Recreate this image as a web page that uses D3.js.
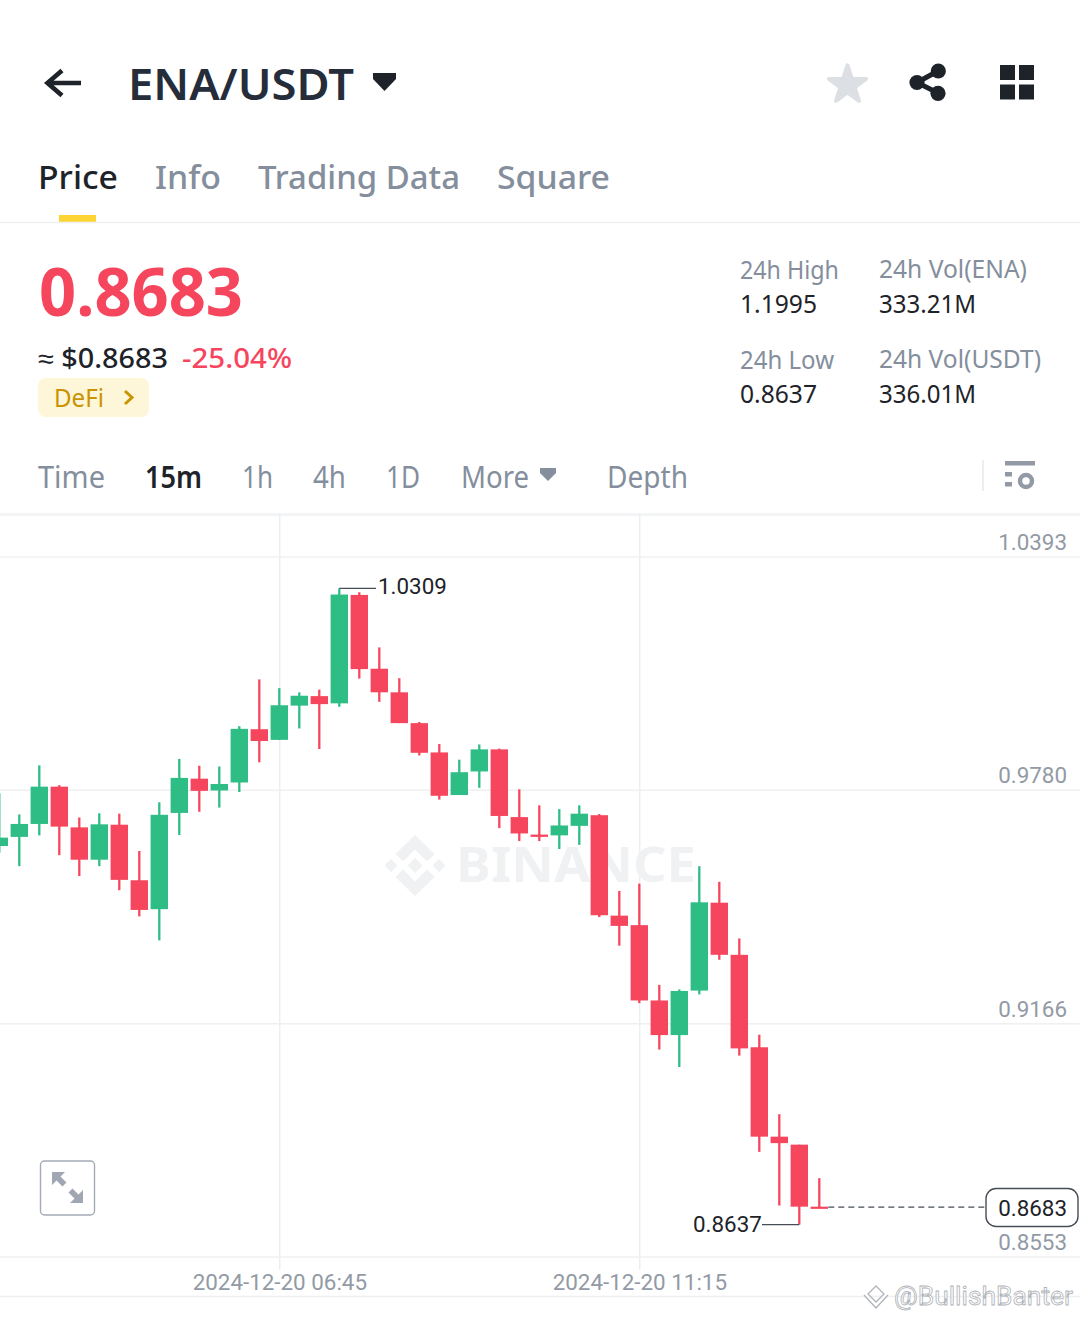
<!DOCTYPE html>
<html>
<head>
<meta charset="utf-8">
<title>ENA/USDT</title>
<script src="https://cdn.jsdelivr.net/npm/d3@7"></script>
<style>
  html, body { margin: 0; padding: 0; background: #fff; }
  svg { display: block; }
</style>
</head>
<body>
<div id="chart"></div>
<script>
// 15m bars
const times = ["03:15","03:30","03:45","04:00","04:15","04:30","04:45","05:00","05:15","05:30","05:45","06:00","06:15","06:30",
  "06:45","07:00","07:15","07:30","07:45","08:00","08:15","08:30","08:45","09:00","09:15","09:30","09:45","10:00",
  "10:15","10:30","10:45","11:00","11:15","11:30","11:45","12:00","12:15","12:30","12:45","13:00","13:15","13:30"];
const opens = [.9632,.9656,.9690,.9788,.9681,.9596,.9688,.9542,.9466,.9719,.9809,.9778,.9799,.9939,
  .9911,1.0001,1.0026,1.0007,1.0292,1.0098,1.0036,.9955,.9878,.9766,.9828,.9886,.9708,.9662,
  .9660,.9685,.9713,.9449,.9424,.9226,.9135,.9252,.9483,.9346,.9103,.8868,.8847,.8684];
const closes = [.9654,.9690,.9788,.9683,.9596,.9689,.9543,.9464,.9714,.9811,.9777,.9795,.9940,.9908,
  1.0002,1.0027,1.0005,1.0293,1.0097,1.0036,.9955,.9877,.9764,.9826,.9886,.9711,.9665,.9656,
  .9686,.9717,.9450,.9422,.9226,.9135,.9251,.9484,.9346,.9100,.8868,.8851,.8684,.8683];
const highs = [.9771,.9715,.9844,.9792,.9707,.9718,.9717,.9619,.9747,.9861,.9843,.9841,.9947,1.0070,
  1.0047,1.0036,1.0043,1.0309,1.0299,1.0154,1.0073,.9958,.9900,.9859,.9899,.9888,.9781,.9739,
  .9729,.9739,.9716,.9514,.9533,.9267,.9255,.9579,.9538,.9389,.9136,.8927,.8847,.8759];
const lows = [.9614,.9579,.9660,.9608,.9553,.9579,.9516,.9447,.9384,.9661,.9722,.9733,.9774,.9852,
  .9911,.9941,.9887,.9998,1.0072,1.0011,.9955,.9870,.9754,.9766,.9785,.9679,.9645,.9645,
  .9624,.9635,.9445,.9370,.9219,.9097,.9051,.9242,.9333,.9081,.8828,.8687,.8637,.8683];
const priceTicks = [1.0393, 0.9780, 0.9166, 0.8553];
const timeTicks = ["06:45", "11:15"];
const tabs = ["Price", "Info", "Trading Data", "Square"];

const green = "#2ebd85", red = "#f6465d", dark = "#1e2329", grey = "#848e9c", gridColor = "#eff0f2";
const chartFont = "Roboto, sans-serif";
const chartSize = 22.4;
const width = 1080, height = 1318;

const parseTime = d3.timeParse("%Y-%m-%d %H:%M");
const toDate = t => parseTime("2024-12-20 " + t);

const bars = times.map((t, i) => ({
  date: toDate(t), open: opens[i], close: closes[i], high: highs[i], low: lows[i]
}));

const svg = d3.select("#chart").append("svg")
  .attr("width", width)
  .attr("height", height)
  .attr("viewBox", `0 0 ${width} ${height}`);

const xScale = d3.scaleTime().domain([toDate(times[0]), toDate(times[times.length - 1])]).range([-0.7, 819.3]);
const yScale = d3.scaleLinear().domain([0.8553, 1.0393]).range([1256.5, 556.5]);

function label(text, x, y, size, color, weight, len, anchor) {
  const t = svg.append("text")
    .attr("x", x).attr("y", y)
    .attr("font-family", "'Noto Sans', sans-serif")
    .attr("font-size", size)
    .attr("fill", color)
    .attr("font-weight", weight || 400)
    .attr("text-anchor", anchor || "start")
    .text(text);
  if (len) t.attr("textLength", len).attr("lengthAdjust", "spacingAndGlyphs");
  return t;
}

/**
 * Header
 */
svg.append("path").attr("d", "M81 83H49M62 70.5L47.5 83L62 95.5")
  .attr("fill", "none").attr("stroke", dark).attr("stroke-width", 4.6);
label("ENA/USDT", 128, 100, 44, "#252c3a", 600, 226);
svg.append("path").attr("d", "M373 73H396V79L384.5 91L373 79Z").attr("fill", dark);

svg.append("path")
  .attr("d", d3.symbol(d3.symbolStar, 430))
  .attr("transform", "translate(847.5,85)")
  .attr("fill", "#dcdfe3").attr("stroke", "#dcdfe3").attr("stroke-width", 4).attr("stroke-linejoin", "round");

svg.append("path").attr("d", "M938 71L917 82.5L938 93").attr("fill", "none").attr("stroke", dark).attr("stroke-width", 5);
[[938.3, 71], [917, 82.5], [938, 93.3]].forEach(c => {
  svg.append("circle").attr("cx", c[0]).attr("cy", c[1]).attr("r", 7.6).attr("fill", dark);
});
[[1000, 65], [1019, 65], [1000, 84.5], [1019, 84.5]].forEach(c => {
  svg.append("rect").attr("x", c[0]).attr("y", c[1]).attr("width", 15).attr("height", 15).attr("fill", dark);
});

// tabs
[[38, 80], [155, 66], [258, 202], [497, 113]].forEach((p, i) => {
  label(tabs[i], p[0], 189, 33, i === 0 ? dark : grey, 500, p[1]);
});
svg.append("rect").attr("x", 59).attr("y", 215).attr("width", 37).attr("height", 8).attr("fill", "#fcd535");
svg.append("line").attr("x1", 0).attr("x2", width).attr("y1", 222.5).attr("y2", 222.5).attr("stroke", "#eff0f2").attr("stroke-width", 1.5);

// price block
label("0.8683", 39, 316, 66, red, 700, 204);
label("≈ $0.8683", 38, 368, 27, dark, 500, 130);
label("-25.04%", 182, 368, 27, red, 500, 110);
svg.append("rect").attr("x", 38).attr("y", 378).attr("width", 111).attr("height", 39).attr("rx", 8).attr("fill", "#fef6d8");
label("DeFi", 54, 407, 25, "#c99400", 400, 50);
svg.append("path").attr("d", "M125 391L132 397.5L125 404").attr("fill", "none").attr("stroke", "#c99400").attr("stroke-width", 3);

label("24h High", 740, 279, 25, grey, 400, 99);
label("1.1995", 740, 313, 25, dark, 400, 77);
label("24h Vol(ENA)", 879, 278, 25, grey, 400, 148);
label("333.21M", 879, 313, 25, dark, 400, 97);
label("24h Low", 740, 369, 25, grey, 400, 94);
label("0.8637", 740, 403, 25, dark, 400, 77);
label("24h Vol(USDT)", 879, 368, 25, grey, 400, 162);
label("336.01M", 879, 403, 25, dark, 400, 97);

// interval bar
label("Time", 38, 488, 30, grey, 400, 67);
label("15m", 145, 488, 30, dark, 600, 57);
label("1h", 242, 488, 30, grey, 400, 31);
label("4h", 313, 488, 30, grey, 400, 33);
label("1D", 386, 488, 30, grey, 400, 34);
label("More", 461, 488, 30, grey, 400, 68);
svg.append("path").attr("d", "M540 468H556V473L548 481L540 473Z").attr("fill", grey);
label("Depth", 607, 488, 30, grey, 400, 81);
svg.append("line").attr("x1", 983).attr("x2", 983).attr("y1", 460).attr("y2", 491).attr("stroke", "#e6e8ea").attr("stroke-width", 1.5);
svg.append("rect").attr("x", 1005).attr("y", 461).attr("width", 30).attr("height", 4.5).attr("fill", "#929aa5");
svg.append("rect").attr("x", 1005).attr("y", 472).attr("width", 7).attr("height", 4.5).attr("fill", "#929aa5");
svg.append("rect").attr("x", 1005).attr("y", 482).attr("width", 7).attr("height", 4.5).attr("fill", "#929aa5");
svg.append("circle").attr("cx", 1026).attr("cy", 481).attr("r", 6).attr("fill", "none").attr("stroke", "#929aa5").attr("stroke-width", 4.5);

svg.append("line").attr("x1", 0).attr("x2", width).attr("y1", 514.5).attr("y2", 514.5).attr("stroke", "#f3f4f5").attr("stroke-width", 3);

/**
 * Axes and gridlines
 */
svg.append("g")
  .attr("transform", "translate(0,1270)")
  .call(d3.axisBottom(xScale)
    .tickValues(timeTicks.map(toDate))
    .tickFormat(d3.timeFormat("%Y-%m-%d %H:%M"))
    .tickSize(-756))
  .call(g => g.select(".domain").remove())
  .call(g => g.selectAll(".tick line").attr("stroke", "#e9eaec").attr("stroke-width", 1.2))
  .call(g => g.selectAll(".tick text")
    .attr("y", 20).attr("dy", 0)
    .attr("font-size", chartSize).attr("font-family", chartFont).attr("fill", "#929aa5"));

svg.append("g")
  .attr("transform", `translate(${width},0)`)
  .call(d3.axisLeft(yScale)
    .tickValues(priceTicks)
    .tickFormat(d3.format(".4f"))
    .tickSize(width))
  .call(g => g.select(".domain").remove())
  .call(g => g.selectAll(".tick line").attr("stroke", gridColor).attr("stroke-width", 1.5))
  .call(g => g.selectAll(".tick text")
    .attr("x", -13).attr("y", -7).attr("dy", 0)
    .attr("font-size", chartSize).attr("font-family", chartFont).attr("fill", "#929aa5"));

svg.append("line").attr("x1", 0).attr("x2", width).attr("y1", 1296.5).attr("y2", 1296.5).attr("stroke", "#eff0f2").attr("stroke-width", 1.5);

// watermark under the candles
const mark = "#f0f1f3";
svg.append("path")
  .attr("d", "M415 835L434.5 854L427 861.5L415 849.5L403 861.5L395.5 854Z M415 896L434.5 877L427 869.5L415 881.5L403 869.5L395.5 877Z M415 858L422.5 865.5L415 873L407.5 865.5Z M391 859L397.5 865.5L391 872L384.5 865.5Z M439 859L445.5 865.5L439 872L432.5 865.5Z")
  .attr("fill", mark);
label("BINANCE", 456, 882, 49, mark, 700, 240);

/**
 * Candles
 */
const candles = svg.append("g").selectAll("g")
  .data(bars)
  .join("g")
  .attr("fill", d => d.close >= d.open ? green : red)
  .attr("stroke", d => d.close >= d.open ? green : red);

candles.append("line")
  .attr("x1", d => xScale(d.date))
  .attr("x2", d => xScale(d.date))
  .attr("y1", d => yScale(d.high))
  .attr("y2", d => yScale(d.low))
  .attr("stroke-width", 2.3);

candles.append("rect")
  .attr("x", d => xScale(d.date) - 8.7)
  .attr("width", 17.4)
  .attr("y", d => yScale(Math.max(d.open, d.close)))
  .attr("height", d => Math.max(2.2, Math.abs(yScale(d.open) - yScale(d.close))))
  .attr("stroke", "none");

/**
 * High, low and last price callouts
 */
const highBar = bars[d3.greatestIndex(highs)];
const lowBar = bars[d3.leastIndex(lows)];
const lastBar = bars[bars.length - 1];
const calloutColor = "#474d57";

svg.append("line")
  .attr("x1", xScale(highBar.date)).attr("x2", 376)
  .attr("y1", yScale(highBar.high)).attr("y2", yScale(highBar.high))
  .attr("stroke", calloutColor).attr("stroke-width", 1.3);
label(d3.format(".4f")(highBar.high), 378, 594, chartSize, dark, 400).attr("font-family", chartFont);

svg.append("line")
  .attr("x1", 762).attr("x2", xScale(lowBar.date))
  .attr("y1", yScale(lowBar.low)).attr("y2", yScale(lowBar.low))
  .attr("stroke", calloutColor).attr("stroke-width", 1.3);
label(d3.format(".4f")(lowBar.low), 693, 1232, chartSize, dark, 400).attr("font-family", chartFont);

svg.append("line")
  .attr("x1", xScale(lastBar.date) + 9).attr("x2", 986)
  .attr("y1", yScale(lastBar.close)).attr("y2", yScale(lastBar.close))
  .attr("stroke", calloutColor).attr("stroke-width", 1.3).attr("stroke-dasharray", "6 4");
svg.append("rect").attr("x", 986).attr("y", 1188.5).attr("width", 92).attr("height", 38).attr("rx", 10)
  .attr("fill", "#fff").attr("stroke", calloutColor).attr("stroke-width", 1.4);
label(d3.format(".4f")(lastBar.close), 1067, 1216, chartSize, dark, 400, null, "end").attr("font-family", chartFont);

// expand button
svg.append("rect").attr("x", 40.5).attr("y", 1161).attr("width", 54).attr("height", 54).attr("rx", 4)
  .attr("fill", "#fff").attr("stroke", "#a5abb6").attr("stroke-width", 1.4);
svg.append("path")
  .attr("d", "M52 1172H65L60.5 1176.5L66.5 1182.5L62.5 1186.5L56.5 1180.5L52 1185Z M83 1203H70L74.5 1198.5L68.5 1192.5L72.5 1188.5L78.5 1194.5L83 1190Z")
  .attr("fill", "#a0a6b2");

// repost watermark
label("@BullishBanter", 894, 1305, 26, "#fff", 400, 179)
  .attr("stroke", "#aeb2b8").attr("stroke-width", 0.8).attr("font-family", chartFont);
svg.append("path")
  .attr("d", "M876 1286L884 1294L876 1302L868 1294Z M864 1295L876 1308L888 1295")
  .attr("fill", "#fff").attr("stroke", "#b0b4ba").attr("stroke-width", 1.3);
</script>
</body>
</html>
